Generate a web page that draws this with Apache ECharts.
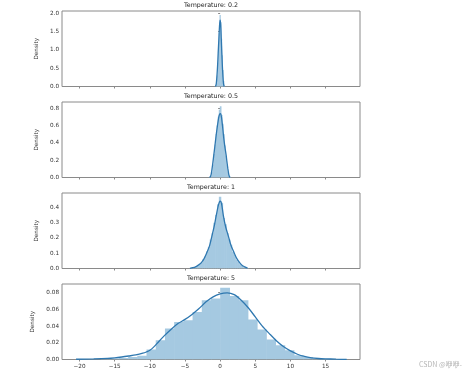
<!DOCTYPE html>
<html><head><meta charset="utf-8">
<script src="https://cdn.jsdelivr.net/npm/echarts@6/dist/echarts.min.js"></script>
<style>html,body{margin:0;padding:0;background:#fff}#c{width:474px;height:372px}</style>
</head><body><div id="c"></div>
<script>
// ---- data ----
const titles = ['Temperature: 0.2', 'Temperature: 0.5', 'Temperature: 1', 'Temperature: 5'];
const xTicks = [-20, -15, -10, -5, 0, 5, 10, 15];
const yTicks02 = [0, 0.5, 1.0, 1.5, 2.0];
const yTicks05 = [0, 0.2, 0.4, 0.6, 0.8];
const yTicks1 = [0, 0.1, 0.2, 0.3, 0.4];
const yTicks5 = [0, 0.02, 0.04, 0.06, 0.08];

// histogram bins: first edge, bin width, heights
const hist02Start = -0.65, hist02Width = 0.1;
const hist02 = [0.02, 0.08, 0.3, 0.65, 1.1, 1.45, 1.95, 1.75, 1.3, 0.85, 0.45, 0.15, 0.03];
const hist05Start = -1.5, hist05Width = 0.15;
const hist05 = [0.005, 0.02, 0.06, 0.15, 0.27, 0.38, 0.5, 0.6, 0.7, 0.78, 0.82, 0.72, 0.62, 0.5, 0.37, 0.25, 0.14, 0.06, 0.02, 0.005];
const hist1Start = -4.3, hist1Width = 0.26;
const hist1 = [0.002, 0.004, 0.006, 0.014, 0.018, 0.032, 0.04, 0.06, 0.078, 0.112, 0.14, 0.19, 0.23, 0.3, 0.35, 0.42, 0.47, 0.43, 0.33, 0.29, 0.23, 0.19, 0.155, 0.11, 0.088, 0.058, 0.044, 0.028, 0.02, 0.012, 0.006, 0.003];
const hist5Start = -16.98, hist5Width = 1.31;
const hist5 = [0.0008, 0.0012, 0.0018, 0.003, 0.0045, 0.012, 0.023, 0.037, 0.045, 0.047, 0.057, 0.071, 0.073, 0.086, 0.076, 0.071, 0.048, 0.036, 0.024, 0.017, 0.011, 0.005, 0.003, 0.0015, 0.0008, 0.0004];

// KDE curves [x, density]
const kde02 = [[-0.66,0.0],[-0.55,0.08],[-0.45,0.3],[-0.36,0.58],[-0.28,0.91],[-0.18,1.3],[-0.08,1.68],[0.0,1.81],[0.08,1.68],[0.16,1.3],[0.24,0.91],[0.32,0.55],[0.4,0.27],[0.48,0.08],[0.57,0.0]];
const kde05 = [[-1.5,0.0],[-1.38,0.012],[-1.27,0.04],[-1.14,0.108],[-1.02,0.18],[-0.9,0.26],[-0.75,0.36],[-0.62,0.45],[-0.5,0.53],[-0.38,0.6],[-0.25,0.67],[-0.12,0.72],[0.0,0.735],[0.1,0.73],[0.2,0.69],[0.33,0.6],[0.42,0.53],[0.52,0.45],[0.68,0.35],[0.85,0.26],[0.97,0.18],[1.09,0.108],[1.22,0.04],[1.32,0.012],[1.42,0.0]];
const kde1 = [[-4.3,0.001],[-3.9,0.005],[-3.5,0.011],[-3.1,0.022],[-2.7,0.037],[-2.3,0.063],[-1.9,0.103],[-1.5,0.15],[-1.18,0.21],[-0.85,0.275],[-0.57,0.343],[-0.3,0.405],[-0.1,0.435],[0.05,0.44],[0.2,0.425],[0.47,0.343],[0.8,0.27],[1.18,0.21],[1.55,0.15],[1.99,0.103],[2.4,0.063],[2.8,0.037],[3.15,0.02],[3.5,0.011],[3.9,0.002]];
const kde5 = [[-20.5,0.0003],[-18,0.0007],[-16,0.0013],[-15,0.002],[-14,0.003],[-13,0.0042],[-12,0.0055],[-11,0.0075],[-10.5,0.009],[-10,0.011],[-9.5,0.0145],[-9,0.019],[-8,0.028],[-7,0.036],[-6,0.043],[-5,0.048],[-4,0.054],[-3,0.061],[-2,0.069],[-1,0.075],[0,0.0785],[1,0.0797],[2,0.0776],[3,0.071],[4,0.062],[5,0.051],[6,0.040],[7,0.031],[8,0.0225],[9,0.0155],[10,0.0103],[11,0.0063],[12,0.0036],[13,0.002],[14,0.0012],[15,0.0008],[16.5,0.0004],[18,0.0001]];

// ---- build ----
function bins(start, width, heights) {
  return heights.map((h, i) => [start + i * width, start + (i + 1) * width, h]);
}
const panels = [
  { hist: bins(hist02Start, hist02Width, hist02), kde: kde02, ticks: yTicks02, max: 2.06, dec: 1, gap: 18 },
  { hist: bins(hist05Start, hist05Width, hist05), kde: kde05, ticks: yTicks05, max: 0.87, dec: 1, gap: 18 },
  { hist: bins(hist1Start, hist1Width, hist1), kde: kde1, ticks: yTicks1, max: 0.494, dec: 1, gap: 18 },
  { hist: bins(hist5Start, hist5Width, hist5), kde: kde5, ticks: yTicks5, max: 0.0904, dec: 2, gap: 21.5 }
];
const tops = [11, 102, 193, 284];
const gridH = 75.5;
const FONT = 'DejaVu Sans';
const axisCol = '#8a8a8a';

const grid = [], xAxis = [], yAxis = [], series = [], graphic = [];
panels.forEach((p, i) => {
  grid.push({ left: 62, width: 298, top: tops[i], height: gridH, show: true,
    borderColor: axisCol, borderWidth: 1, backgroundColor: 'transparent', containLabel: false });
  xAxis.push({ type: 'value', gridIndex: i, min: -22.5, max: 19.9,
    axisLine: { show: false }, splitLine: { show: false },
    axisTick: { show: true, length: 2, lineStyle: { color: axisCol }, customValues: xTicks },
    axisLabel: { show: i === 3, customValues: xTicks, margin: 4, fontSize: 5.7, fontFamily: FONT, color: '#333',
      formatter: v => String(v).replace('-', '\u2212') } });
  yAxis.push({ type: 'value', gridIndex: i, min: 0, max: p.max,
    name: 'Density', nameLocation: 'middle', nameGap: p.gap, nameRotate: 90,
    nameTextStyle: { fontSize: 5.7, fontFamily: FONT, color: '#333' },
    axisLine: { show: false }, splitLine: { show: false },
    axisTick: { show: true, length: 2, lineStyle: { color: axisCol }, customValues: p.ticks },
    axisLabel: { customValues: p.ticks, margin: 3, fontSize: 5.7, fontFamily: FONT, color: '#333',
      formatter: v => Number(v).toFixed(p.dec) } });
  series.push({ type: 'custom', xAxisIndex: i, yAxisIndex: i, data: p.hist, clip: true,
    encode: { x: [0, 1], y: 2 },
    renderItem: function (params, api) {
      const a = api.coord([api.value(0), api.value(2)]);
      const b = api.coord([api.value(1), 0]);
      return { type: 'rect', shape: { x: a[0] - 0.3, y: a[1], width: b[0] - a[0] + 0.6, height: b[1] - a[1] },
        style: { fill: '#a5c9e1' } };
    } });
  series.push({ type: 'line', xAxisIndex: i, yAxisIndex: i, data: p.kde, smooth: 0.3,
    showSymbol: false, symbol: 'none', lineStyle: { color: '#2f78b0', width: 1.3 }, z: 3 });
  graphic.push({ type: 'text', x: 211, y: tops[i] - 5.5,
    style: { text: titles[i], fontSize: 6.3, fontFamily: FONT, fill: '#222', align: 'center', verticalAlign: 'middle' } });
});
graphic.push({ type: 'text', x: 462, y: 364,
  style: { text: 'CSDN @咿咿-', fontSize: 7, fontFamily: 'Noto Sans CJK SC', fill: '#b5b5b5', align: 'right', verticalAlign: 'middle' } });

const chart = echarts.init(document.getElementById('c'), null, { renderer: 'canvas' });
chart.setOption({ backgroundColor: '#fff', animation: false, grid, xAxis, yAxis, series, graphic });
</script></body></html>
